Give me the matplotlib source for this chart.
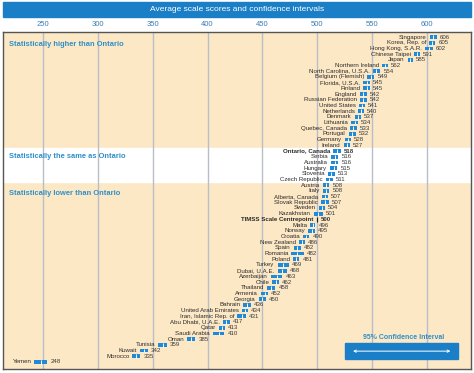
import matplotlib.pyplot as plt
from matplotlib.patches import Rectangle, FancyArrowPatch
import numpy as np

plt.rcParams['font.family'] = ['Liberation Sans', 'DejaVu Sans']

# countries, average scale scores and confidence half-widths (score points)
countries = ['Singapore', 'Korea, Rep. of', 'Hong Kong, S.A.R.', 'Chinese Taipei', 'Japan',
             'Northern Ireland', 'North Carolina, U.S.A.', 'Belgium (Flemish)', 'Florida, U.S.A.',
             'Finland', 'England', 'Russian Federation', 'United States', 'Netherlands',
             'Denmark', 'Lithuania', 'Quebec, Canada', 'Portugal', 'Germany', 'Ireland',
             'Ontario, Canada', 'Serbia', 'Australia', 'Hungary', 'Slovenia', 'Czech Republic',
             'Austria', 'Italy', 'Alberta, Canada', 'Slovak Republic', 'Sweden', 'Kazakhstan',
             'TIMSS Scale Centrepoint', 'Malta', 'Norway', 'Croatia', 'New Zealand', 'Spain',
             'Romania', 'Poland', 'Turkey', 'Dubai, U.A.E.', 'Azerbaijan', 'Chile', 'Thailand',
             'Armenia', 'Georgia', 'Bahrain', 'United Arab Emirates', 'Iran, Islamic Rep. of',
             'Abu Dhabi, U.A.E.', 'Qatar', 'Saudi Arabia', 'Oman', 'Tunisia', 'Kuwait',
             'Morocco', 'Yemen']
scores = [606, 605, 602, 591, 585, 562, 554, 549, 545, 545, 542, 542, 541, 540, 537, 534,
          533, 532, 528, 527, 518, 516, 516, 515, 513, 511, 508, 508, 507, 507, 504, 501,
          500, 496, 495, 490, 486, 482, 482, 481, 469, 468, 463, 462, 458, 452, 450, 436,
          434, 431, 417, 413, 410, 385, 359, 342, 335, 248]
ci_half = [3.2, 2.8, 3.4, 2.6, 2.3, 2.7, 3.6, 3.2, 3.2, 3.2, 3.3, 3.3, 2.6, 2.6, 3.0, 3.0,
           3.2, 3.4, 2.8, 3.0, 3.3, 3.2, 3.2, 3.4, 3.0, 3.0, 3.0, 3.0, 3.0, 3.6, 2.8, 4.2,
           0.0, 2.3, 3.2, 2.8, 3.0, 3.3, 5.5, 2.8, 5.0, 4.0, 5.3, 3.0, 3.8, 3.3, 3.3, 3.3,
           2.8, 4.0, 3.3, 2.5, 5.3, 3.8, 4.0, 3.8, 3.6, 5.9]
bold_rows = ['Ontario, Canada', 'TIMSS Scale Centrepoint']
ticks = [250, 300, 350, 400, 450, 500, 550, 600]
n_higher = 20
n_same = 6

bar_blue = '#1f8ad8'
peach = '#fde8c6'
label_blue = '#2e8fc9'

fig = plt.figure(figsize=(4.74, 3.73), dpi=100)
ax = fig.add_axes([3 / 474, 1 - 369 / 373, 468 / 474, 337 / 373])

n = len(countries)
rows = np.arange(n)
ax.set_xlim(213.5, 640.2)
ax.set_ylim(n + 0.25, -0.88)

# section backgrounds
ax.set_facecolor(peach)
ax.axhspan(n_higher - 0.5, n_higher + n_same - 0.5, color='white', zorder=0)

for t in ticks:
    ax.axvline(t, color='#b9bec6', lw=1.0, zorder=1)

for i, (c, s, h) in enumerate(zip(countries, scores, ci_half)):
    wt = 'bold' if c in bold_rows else 'normal'
    if h > 0:
        ax.barh(i, 2 * h, left=s - h, height=0.64, color=bar_blue, zorder=3)
        ax.vlines(s, i - 0.32, i + 0.32, color='white', lw=0.7, zorder=4)
    else:
        ax.vlines(s, i - 0.45, i + 0.45, color='#222222', lw=0.8, zorder=4)
    ax.annotate(c, (s - max(h, 0.5), i), xytext=(-2.2, 0), textcoords='offset points',
                ha='right', va='center', fontsize=4.45, color='#2a2a2a', weight=wt, zorder=5)
    ax.annotate(str(s), (s + max(h, 0.5), i), xytext=(2.2, 0), textcoords='offset points',
                ha='left', va='center', fontsize=4.45, color='#3a3a3a', weight=wt, zorder=5)

# section labels
trans = ax.get_yaxis_transform()
ax.text(0.013, 1.3, 'Statistically higher than Ontario', transform=trans, fontsize=5.4,
        weight='bold', color=label_blue, va='center')
ax.text(0.013, 21.0, 'Statistically the same as Ontario', transform=trans, fontsize=5.4,
        weight='bold', color=label_blue, va='center')
ax.text(0.013, 27.4, 'Statistically lower than Ontario', transform=trans, fontsize=5.4,
        weight='bold', color=label_blue, va='center')

# x ticks on top
ax.xaxis.tick_top()
ax.set_xticks(ticks)
ax.set_xticklabels([str(t) for t in ticks], fontsize=5.5, color='#3a7db5')
ax.tick_params(axis='x', length=0, pad=3)
ax.set_yticks([])
for sp in ax.spines.values():
    sp.set_color('#555555')
    sp.set_linewidth(1.0)

# header
fig.patches.append(Rectangle((3 / 474, 1 - 17 / 373), 468 / 474, 15 / 373,
                             transform=fig.transFigure, color='#1a7fc6', zorder=0))
fig.text(237 / 474, 1 - 9.5 / 373, 'Average scale scores and confidence intervals',
         ha='center', va='center', fontsize=6, color='white')

# confidence interval key
ax.add_patch(Rectangle((0.731, 0.030), 0.241, 0.047, transform=ax.transAxes,
                       color='#1a7fc6', zorder=6))
ax.add_patch(FancyArrowPatch((0.742, 0.053), (0.962, 0.053), transform=ax.transAxes,
                             arrowstyle='<->', mutation_scale=4, color='white', lw=0.7, zorder=7))
ax.text(0.857, 0.092, '95% Confidence Interval', transform=ax.transAxes, ha='center',
        va='center', fontsize=5, weight='bold', color=label_blue, zorder=7)

plt.savefig('out.png', dpi=100)
